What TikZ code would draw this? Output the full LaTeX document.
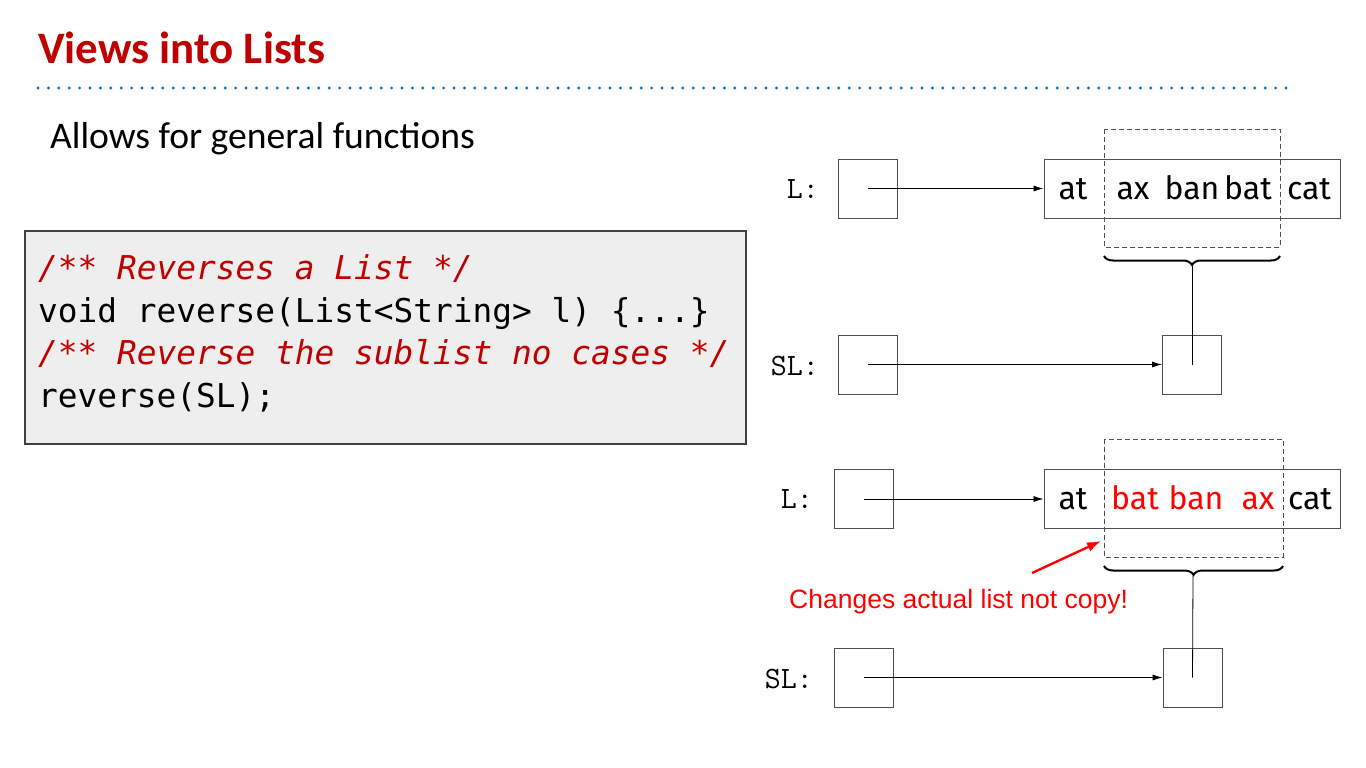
\documentclass[tikz,border=0pt]{standalone}
\usepackage{fontspec}
\setmainfont{Carlito}
\newfontfamily\codefont{DejaVu Sans Mono}
\newfontfamily\itemfont{Fira Sans}
\newfontfamily\notefont{Liberation Sans}
\usetikzlibrary{decorations.pathreplacing,arrows.meta}
\definecolor{titlered}{RGB}{192,0,0}
\definecolor{dotblue}{RGB}{0,112,192}
\definecolor{codebg}{RGB}{238,238,238}
\definecolor{boxgray}{RGB}{80,80,80}
\definecolor{notered}{RGB}{255,0,0}
\tikzset{
  cell/.style={draw=boxgray,line width=0.9pt,minimum width=59pt,minimum height=59pt,inner sep=0pt},
  listbox/.style={draw=boxgray,line width=0.9pt,minimum width=296pt,minimum height=59pt,inner sep=0pt},
  viewbox/.style={draw=boxgray,line width=0.9pt,dashed,dash pattern=on 5pt off 3pt},
  ptr/.style={line width=0.8pt,-{Latex[length=10pt,width=6pt]}},
  link/.style={line width=0.8pt},
  lbl/.style={font=\ttfamily\fontsize{31}{33}\selectfont,anchor=base east,inner sep=0pt},
  item/.style={font=\itemfont\fontsize{32}{34}\selectfont,anchor=base,inner sep=0pt},
  codeline/.style={font=\codefont\fontsize{32.8}{40}\selectfont,anchor=base west,inner sep=0pt},
  comment/.style={codeline,font=\codefont\itshape\fontsize{32.8}{40}\selectfont,text=titlered},
  brc/.style={decorate,decoration={brace,mirror,amplitude=9pt},line width=2pt},
}
\begin{document}
\begin{tikzpicture}[x=1pt,y=-1pt]
\useasboundingbox (0,0) rectangle (1366,768);
\fill[white] (0,0) rectangle (1366,768);
% title
\node[anchor=base west,inner sep=0pt,text=titlered,font=\bfseries\fontsize{45}{50}\selectfont] (title) at (38,64) {Views into Lists};
\draw[dotblue,line width=3.2pt,line cap=round,dash pattern=on 0pt off 10.4pt] (38,88) -- (1290,88);
\node[anchor=base west,inner sep=0pt,font=\fontsize{37.6}{42}\selectfont] (sub) at (50,148) {Allows for general functions};
% code box
\draw[fill=codebg,draw=black!75,line width=1.2pt] (25,231) rectangle (746,444);
\node[comment] (c1) at (38,279) {/** Reverses a List */};
\node[codeline] (c2) at (38,322) {void reverse(List<String> l) \{...\}};
\node[comment] (c3) at (38,364) {/** Reverse the sublist no cases */};
\node[codeline] (c4) at (38,407) {reverse(SL);};
% ---------- top diagram
\node[lbl] (L1) at (819,198) {L:};
\node[cell] (Lb1) at (867.5,188.5) {};
\node[listbox] (list1) at (1192,188.5) {};
\draw[viewbox] (1104,129) rectangle (1280,247);
\node[item] at (1073,199) {at};
\node[item] at (1133,199) {ax};
\node[item] at (1192,199) {ban};
\node[item] at (1248,199) {bat};
\node[item] at (1309,199) {cat};
\draw[brc] (1104,256) -- (1280,256);
\coordinate (tip1) at (1192,266);
\node[lbl] (SL1) at (819,375) {SL:};
\node[cell] (SLb1) at (867.5,364.5) {};
\node[cell] (sub1) at (1192,364.5) {};
\draw[ptr] (Lb1.center) -- (list1.west);
\draw[ptr] (SLb1.center) -- (sub1.west);
\draw[link] (tip1) -- (sub1.center);
% ---------- bottom diagram
\node[lbl] (L2) at (813,508) {L:};
\node[cell] (Lb2) at (863.5,499) {};
\node[listbox] (list2) at (1192,499) {};
\draw[viewbox] (1104,439) rectangle (1283,557);
\node[item] at (1073,509) {at};
\node[item,text=notered] at (1135,509) {bat};
\node[item,text=notered] at (1196,509) {ban};
\node[item,text=notered] at (1258,509) {ax};
\node[item] at (1310,509) {cat};
\draw[brc] (1104,566) -- (1283,566);
\coordinate (tip2) at (1193,576);
\node[lbl] (SL2) at (813,688) {SL:};
\node[cell] (SLb2) at (863.5,677.5) {};
\node[cell] (sub2) at (1192.5,677.5) {};
\draw[ptr] (Lb2.center) -- (list2.west);
\draw[ptr] (SLb2.center) -- (sub2.west);
\draw[link] (tip2) -- (sub2.center);
% note
\node[anchor=base west,inner sep=0pt,text=notered,font=\notefont\fontsize{26.5}{29}\selectfont] (note) at (789,608) {Changes actual list not copy!};
\coordinate (noteStart) at (1032,573);
\coordinate (noteEnd) at (1101,541);
\draw[notered,line width=2.4pt,-{Latex[length=14pt,width=10pt]}] (noteStart) -- (noteEnd);
\end{tikzpicture}
\end{document}
